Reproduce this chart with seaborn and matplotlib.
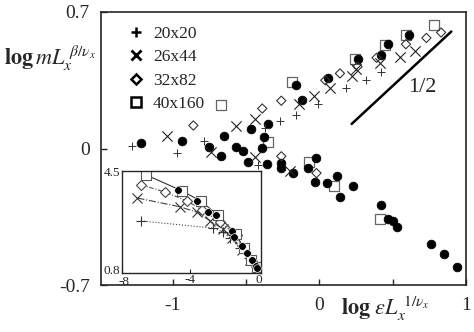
import numpy as np
import pandas as pd
import seaborn as sns
import matplotlib
matplotlib.use("Agg")
import matplotlib.pyplot as plt
from matplotlib.lines import Line2D
from matplotlib.transforms import ScaledTranslation

# ---------------- data (main panel) ----------------
p20_x = [-1.28, -0.97, -0.79, -0.42, -0.37, -0.27, -0.16, -0.01, 0.18, 0.32, 0.42]
p20_y = [0.013, -0.023, 0.038, -0.085, 0.105, 0.14, 0.17, 0.23, 0.31, 0.35, 0.39]

x26_x = [-1.04, -0.74, -0.57, -0.44, -0.44, -0.20, -0.14, -0.04, 0.07, 0.22, 0.25, 0.41, 0.55, 0.65]
x26_y = [0.066, -0.018, 0.115, 0.15, -0.044, -0.115, 0.23, 0.27, 0.31, 0.37, 0.41, 0.44, 0.47, 0.50]

d32_x = [-0.86, -0.39, -0.26, -0.26, -0.02, 0.04, 0.14, 0.26, 0.39, 0.59, 0.73, 0.83]
d32_y = [0.118, 0.205, 0.245, -0.04, -0.126, 0.35, 0.385, 0.42, 0.465, 0.535, 0.567, 0.595]

s40_x = [-0.67, -0.35, -0.19, -0.07, 0.10, 0.24, 0.41, 0.45, 0.59, 0.78]
s40_y = [0.225, 0.033, 0.34, -0.069, -0.19, 0.46, -0.36, 0.533, 0.58, 0.632]

dot_x = [-1.22, -0.94, -0.75, -0.67, -0.65, -0.57, -0.52, -0.49, -0.47, -0.38, -0.39, -0.36,
         -0.35, -0.26, -0.26, -0.18, -0.16, -0.12, -0.08, -0.02, -0.03, 0.05, 0.06, 0.12,
         0.14, 0.23, 0.26, 0.42, 0.42, 0.47, 0.47, 0.50, 0.53, 0.61, 0.76, 0.85, 0.94]
dot_y = [0.03, 0.038, 0.01, -0.04, 0.064, 0.008, -0.015, -0.069, 0.10, 0.059, 0.003, -0.08,
         0.128, -0.074, -0.10, -0.126, 0.325, 0.25, -0.10, -0.049, -0.17, -0.177, 0.36, -0.14,
         -0.25, -0.19, 0.46, 0.48, -0.29, 0.535, -0.36, -0.37, -0.40, 0.58, -0.49, -0.54, -0.61]

slope_x = [0.22, 0.90]
slope_y = [0.126, 0.60]
slope_label = "1/2"

legend_labels = ["20x20", "26x44", "32x82", "40x160"]

# ---------------- data (inset) ----------------
in_s_x = [-6.6, -4.5, -3.4, -2.4, -1.33, -0.9, -0.45, -0.1]
in_s_y = [4.36, 3.78, 3.41, 2.9, 2.2, 1.7, 1.27, 1.0]
in_d_x = [-6.9, -5.5, -4.2, -3.3, -2.3, -1.3, -0.9, -0.4, -0.1]
in_d_y = [4.0, 3.74, 3.41, 3.08, 2.65, 2.18, 1.67, 1.24, 0.99]
in_x_x = [-7.1, -4.6, -3.6, -2.85, -2.1, -1.6, -1.0, -0.5, -0.1]
in_x_y = [3.52, 3.2, 3.0, 2.69, 2.4, 2.07, 1.64, 1.27, 0.99]
in_p_x = [-6.9, -2.7, -2.1, -1.7, -1.1, -0.6, -0.2]
in_p_y = [2.69, 2.43, 2.3, 2.07, 1.7, 1.34, 1.0]
in_c_x = [-4.7, -3.6, -3.0, -2.5, -1.6, -1.45, -1.0, -0.7, -0.4, -0.2, -0.1]
in_c_y = [3.81, 3.41, 3.01, 2.9, 2.33, 2.1, 1.78, 1.53, 1.27, 1.05, 0.99]

# ---------------- style ----------------
sns.set_style("ticks")
plt.rcParams["font.family"] = ["Liberation Serif", "DejaVu Serif"]
plt.rcParams["mathtext.fontset"] = "stix"

fig = plt.figure(figsize=(4.74, 3.32), dpi=100)
ax = fig.add_axes([101 / 474, 1 - 285 / 332, 365 / 474, 273 / 332])

# filled circles
sns.scatterplot(x=dot_x, y=dot_y, marker="o", s=40, color="black", edgecolor="black",
                linewidth=0.5, ax=ax, zorder=3)
# plus
sns.scatterplot(x=p20_x, y=p20_y, marker="+", s=40, color="#333333", linewidth=0.7, ax=ax, zorder=4)
# X
sns.scatterplot(x=x26_x, y=x26_y, marker="x", s=55, color="#222222", linewidth=0.8, ax=ax, zorder=4)
# diamonds
sns.scatterplot(x=d32_x, y=d32_y, marker="D", s=22, ax=ax, zorder=4)
ax.collections[-1].set_facecolor("none")
ax.collections[-1].set_edgecolor("#333333")
ax.collections[-1].set_linewidth(0.8)
# squares
sns.scatterplot(x=s40_x, y=s40_y, marker="s", s=48, ax=ax, zorder=2)
ax.collections[-1].set_facecolor("white")
ax.collections[-1].set_edgecolor("#666666")
ax.collections[-1].set_linewidth(0.9)

# slope line
sns.lineplot(x=slope_x, y=slope_y, color="black", linewidth=1.8, ax=ax, sort=False, estimator=None)
ax.text(0.70, 0.315, slope_label, fontsize=16, ha="center", va="center")

ax.set_xlim(-1.49, 1.0)
ax.set_ylim(-0.7, 0.7)
ax.set_xticks([-1, 0, 1])
ax.set_xticklabels(["-1", "0", "1"])
ax.set_xticks([-0.5, 0.5], minor=True)
ax.set_yticks([-0.7, 0, 0.7])
ax.set_yticklabels(["-0.7", "0", "0.7"])
ax.tick_params(axis="both", which="both", direction="in", labelsize=14, length=4, width=1)
ax.tick_params(axis="x", pad=9)
ax.tick_params(axis="y", pad=8)
for sp in ax.spines.values():
    sp.set_linewidth(1.2)
    sp.set_visible(True)

# legend
handles = [
    Line2D([], [], marker="+", linestyle="none", color="black", markersize=7, markeredgewidth=1.8),
    Line2D([], [], marker="x", linestyle="none", color="black", markersize=7, markeredgewidth=2.0),
    Line2D([], [], marker="D", linestyle="none", markerfacecolor="none", markeredgecolor="black",
           markersize=5.5, markeredgewidth=1.8),
    Line2D([], [], marker="s", linestyle="none", markerfacecolor="none", markeredgecolor="black",
           markersize=7.5, markeredgewidth=1.8),
]
leg = ax.legend(handles, legend_labels, loc="upper left", bbox_to_anchor=(0.052, 0.975),
                frameon=False, fontsize=12.5, handlelength=1.0, handletextpad=0.5,
                labelspacing=0.42, borderaxespad=0)

# axis labels
fig.text(50 / 474, 1 - 58 / 332, r"$\mathbf{log}\,mL_x^{\ \beta/\nu_x}$", fontsize=16,
         ha="center", va="center")
fig.text(385 / 474, 1 - 309 / 332, r"$\mathbf{log}\ \epsilon L_x^{\ 1/\nu_x}$", fontsize=16,
         ha="center", va="center")

# ---------------- inset ----------------
ins = fig.add_axes([122 / 474, 1 - 273 / 332, 139 / 474, 102 / 332])
sns.lineplot(x=in_p_x, y=in_p_y, ax=ins, color="#444444", linewidth=0.8, linestyle=":",
             marker="+", markersize=7, markeredgewidth=0.8, markeredgecolor="#333333",
             sort=False, estimator=None)
sns.lineplot(x=in_x_x, y=in_x_y, ax=ins, color="#444444", linewidth=0.8, linestyle="-.",
             marker="x", markersize=7, markeredgewidth=0.8, markeredgecolor="#333333",
             sort=False, estimator=None)
sns.lineplot(x=in_d_x, y=in_d_y, ax=ins, color="#555555", linewidth=0.8, linestyle=(0, (4, 1.5, 1, 1.5)),
             marker="D", markersize=5, markerfacecolor="white", markeredgecolor="#444444",
             markeredgewidth=0.8, sort=False, estimator=None)
sns.lineplot(x=in_s_x, y=in_s_y, ax=ins, color="#333333", linewidth=0.8, linestyle="-",
             marker="s", markersize=6.5, markerfacecolor="white", markeredgecolor="#555555",
             markeredgewidth=0.8, sort=False, estimator=None)
sns.scatterplot(x=in_c_x, y=in_c_y, ax=ins, marker="o", s=30, color="black", zorder=5)

ins.set_xlim(-8, 0.12)
ins.set_ylim(0.8, 4.5)
ins.set_xticks([-8, -4, 0])
ins.set_xticklabels(["-8", "-4", "0"])
ins.set_yticks([0.8, 4.5])
ins.set_yticklabels(["0.8", "4.5"])
ins.tick_params(axis="both", direction="in", labelsize=9.5, length=3, width=0.8, pad=1)
ins.tick_params(axis="y", length=0, pad=1)
for sp in ins.spines.values():
    sp.set_linewidth(1.0)
    sp.set_visible(True)
# nudge inset tick labels apart so "0.8" and "-8" do not collide
ylabs = ins.get_yticklabels()
ylabs[0].set_transform(ylabs[0].get_transform() + ScaledTranslation(0, 2.5 / 72, fig.dpi_scale_trans))
xlabs = ins.get_xticklabels()
xlabs[0].set_transform(xlabs[0].get_transform() + ScaledTranslation(1.5 / 72, -1 / 72, fig.dpi_scale_trans))

fig.savefig("out.png", dpi=100)
